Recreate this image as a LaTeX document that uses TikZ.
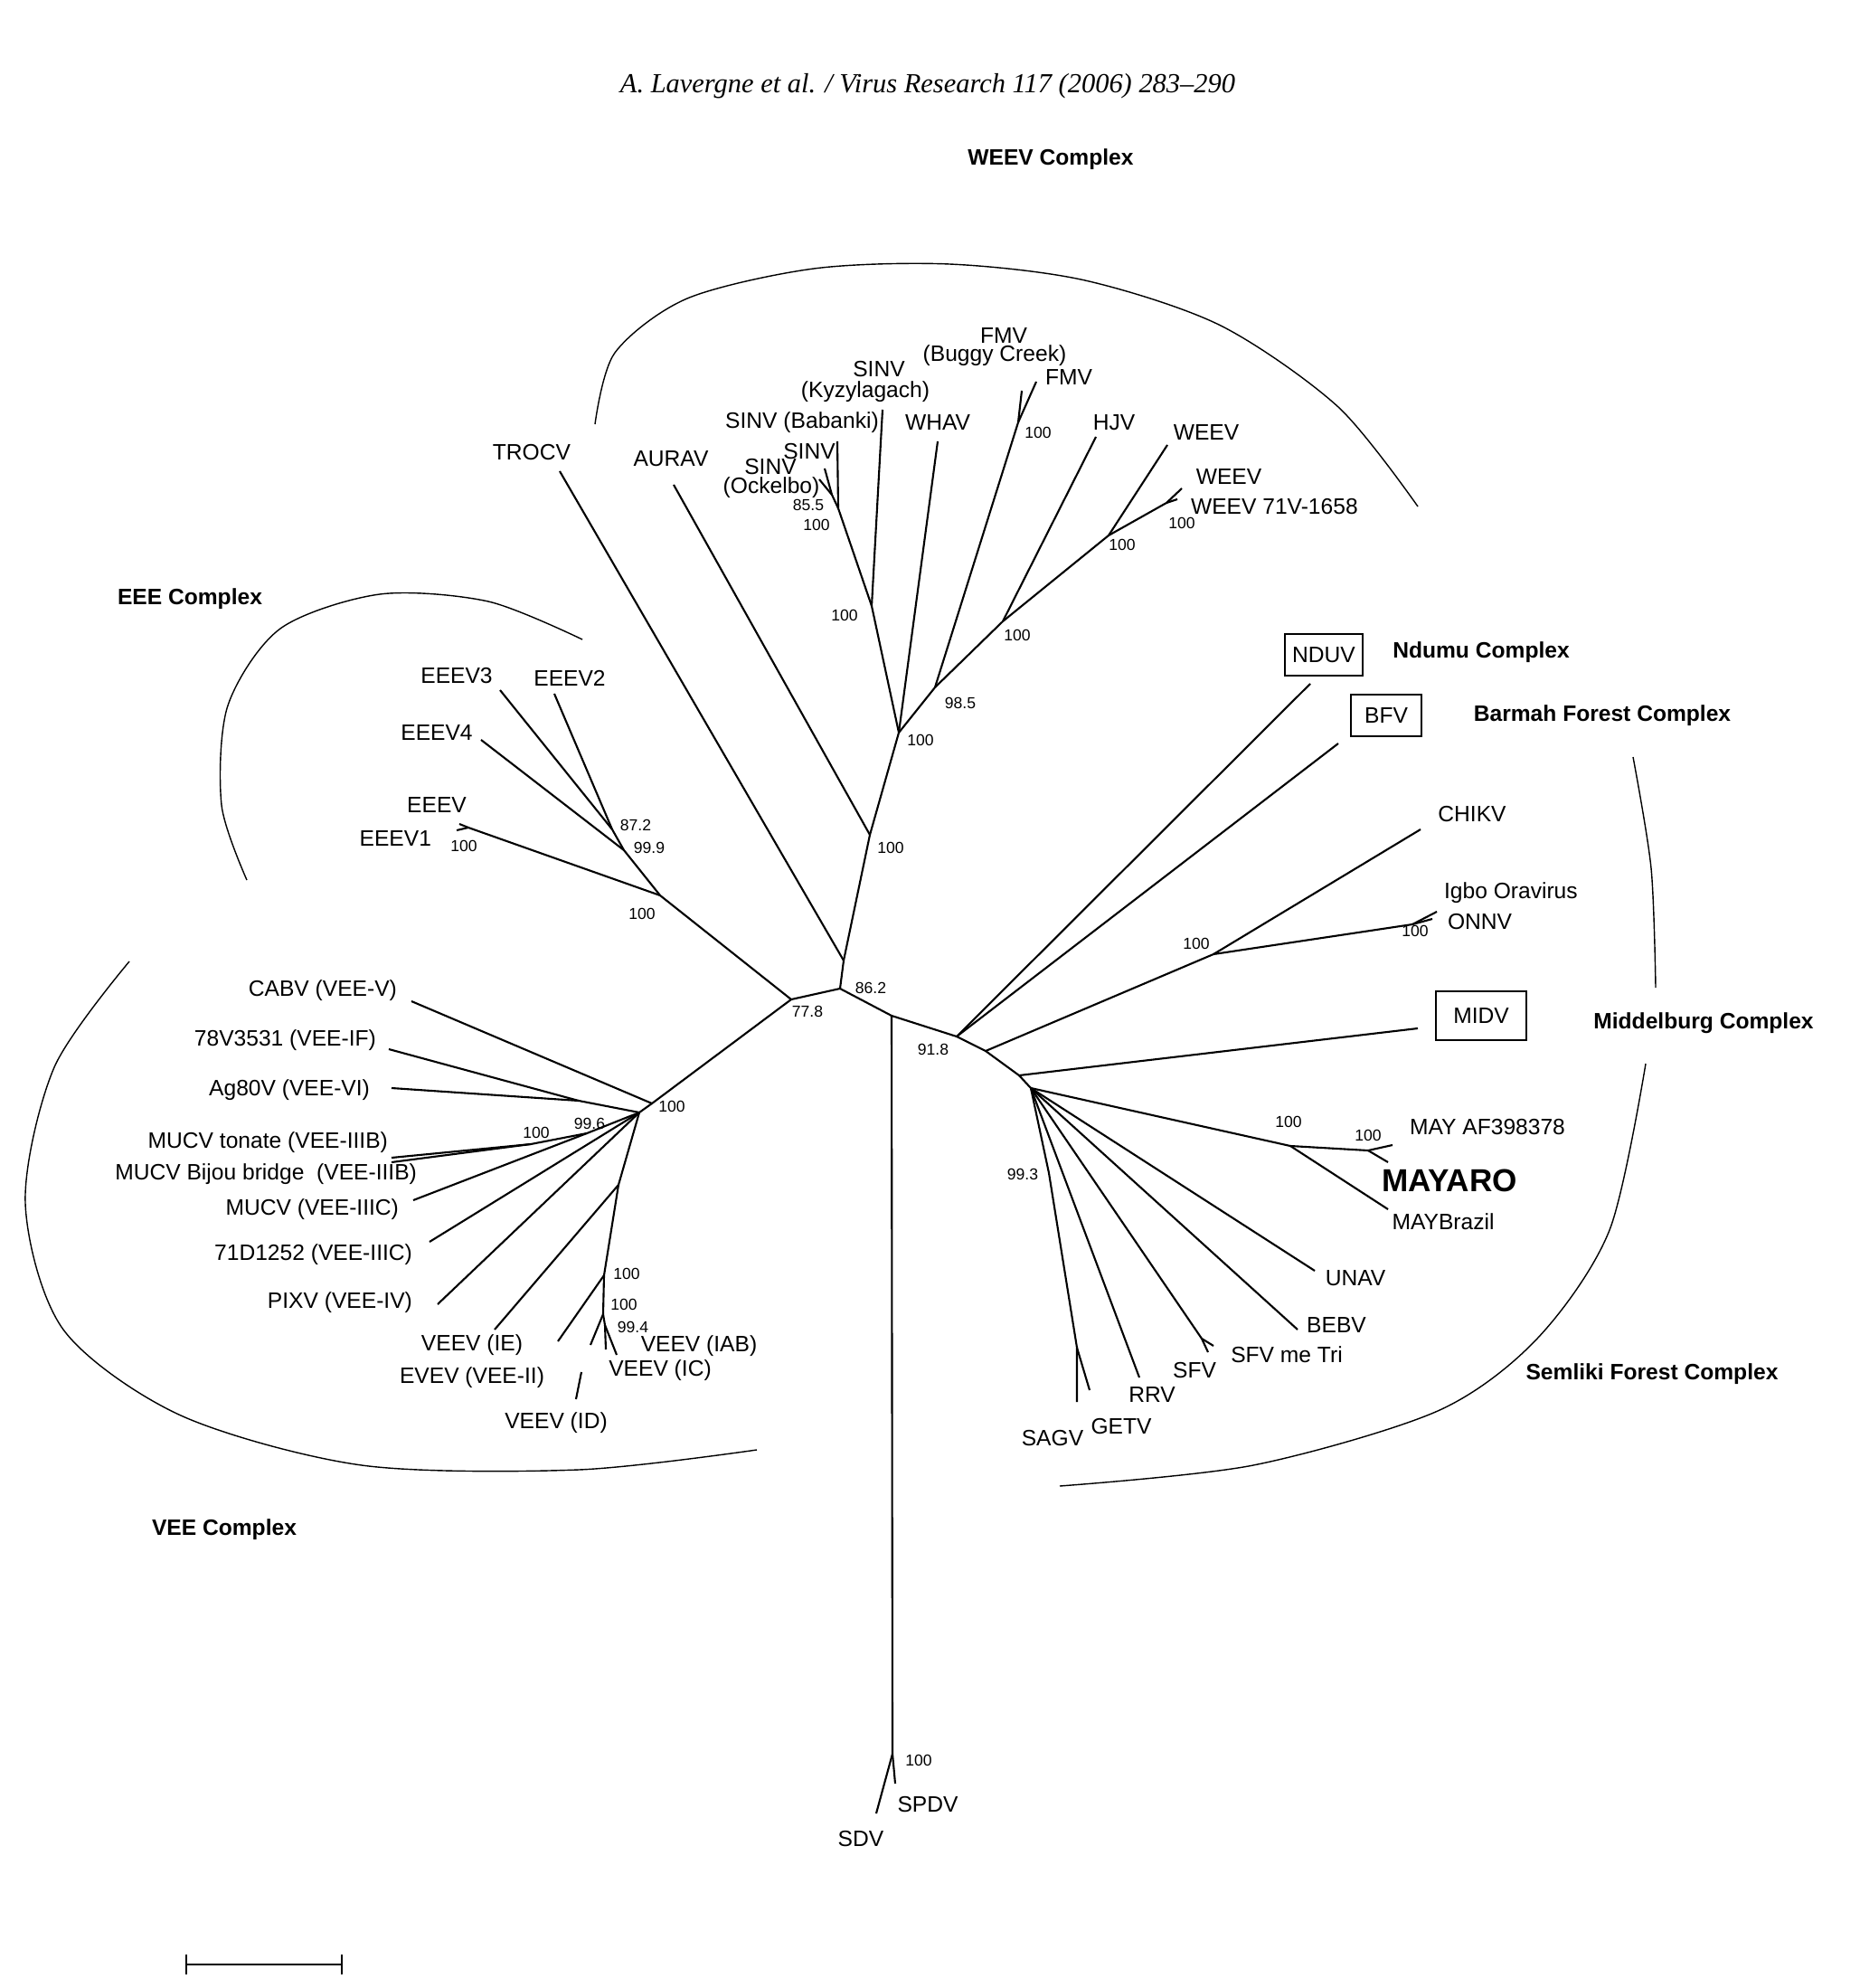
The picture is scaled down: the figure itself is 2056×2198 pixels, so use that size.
\documentclass[tikz,border=0pt]{standalone}
\usepackage{fontspec}
\setmainfont{Liberation Sans}
\newfontfamily\hdfont{Liberation Serif}
\usepackage{tikz}
\usetikzlibrary{positioning}

\begin{document}
\begin{tikzpicture}[x=0.015cm,y=-0.015cm,line width=0.9pt,
    taxon/.style={inner sep=0pt,font=\fontsize{10.5}{11}\selectfont},
    boot/.style={inner sep=0pt,font=\fontsize{7.5}{8}\selectfont},
    cplx/.style={inner sep=0pt,font=\bfseries\fontsize{10.5}{11}\selectfont},
    boxed/.style={taxon,draw,line width=0.8pt,minimum width=1.16cm,minimum height=0.68cm},
    arc/.style={line width=0.6pt}]
  \useasboundingbox (0,0) rectangle (2056,2198);
  \node[font=\hdfont\itshape\fontsize{13}{14}\selectfont] (head) at (1026,95) {A. Lavergne et al. / Virus Research 117 (2006) 283\textendash290};

  % backbone
  \coordinate (n778) at (875,1105);  \coordinate (n862) at (929,1093);
  \coordinate (jtro) at (933,1062);  \coordinate (naur) at (962,923);
  \coordinate (nsd)  at (986,1123);  \coordinate (n918) at (1058,1146);
  \draw (n778) -- (n862) -- (jtro) -- (naur);
  \draw (n862) -- (nsd) -- (n918);

  % WEEV complex
  \coordinate (nwa) at (994,810);   \coordinate (n985) at (1034,760);
  \coordinate (nsin) at (964,670);  \coordinate (nsin2) at (927,562);
  \coordinate (n855) at (920,547);  \coordinate (nfmv) at (1126,467);
  \coordinate (nhjv) at (1109,687); \coordinate (nwee) at (1226,592);
  \coordinate (nw71) at (1290,556);
  \coordinate (ttro) at (619,521);  \coordinate (taur) at (745,536);
  \coordinate (tsin) at (926,488);  \coordinate (tock1) at (912,518);
  \coordinate (tock2) at (906,530); \coordinate (tkyz) at (976,453);
  \coordinate (twha) at (1037,488); \coordinate (tfmv1) at (1130,432);
  \coordinate (tfmv2) at (1146,422); \coordinate (thjv) at (1212,483);
  \coordinate (twee) at (1291,492); \coordinate (tw71a) at (1307,540);
  \coordinate (tw71b) at (1302,552);
  \draw (jtro) -- (ttro);
  \draw (naur) -- (taur);
  \draw (naur) -- (nwa) -- (nsin) -- (nsin2) -- (tsin);
  \draw (nsin2) -- (n855) -- (tock1);
  \draw (n855) -- (tock2);
  \draw (nsin) -- (tkyz);
  \draw (nwa) -- (twha);
  \draw (nwa) -- (n985) -- (nfmv) -- (tfmv1);
  \draw (nfmv) -- (tfmv2);
  \draw (n985) -- (nhjv) -- (thjv);
  \draw (nhjv) -- (nwee) -- (twee);
  \draw (nwee) -- (nw71) -- (tw71a);
  \draw (nw71) -- (tw71b);

  \node[taxon] (troc) at (588,500) {TROCV};
  \node[taxon] (aura) at (742,507) {AURAV};
  \node[taxon] (sinb) at (887,467) {SINV (Babanki)};
  \node[taxon] (sink) at (972,408) {SINV};
  \node[taxon] (kyz)  at (957,433) {(Kyzylagach)};
  \node[taxon] (fmvb) at (1110,371) {FMV};
  \node[taxon] (bug)  at (1100,393) {(Buggy Creek)};
  \node[taxon] (whav) at (1037,467) {WHAV};
  \node[taxon] (sinv) at (895,499) {SINV};
  \node[taxon] (sino) at (852,516) {SINV};
  \node[taxon] (ock)  at (853,539) {(Ockelbo)};
  \node[taxon] (fmv)  at (1182,417) {FMV};
  \node[taxon] (hjv)  at (1232,467) {HJV};
  \node[taxon] (wee1) at (1334,478) {WEEV};
  \node[taxon] (wee2) at (1359,527) {WEEV};
  \node[taxon,anchor=west] (wee3) at (1316,560) {WEEV 71V-1658};
  \node[boot] at (894,558) {85.5};   \node[boot] at (903,580) {100};
  \node[boot] at (934,680) {100};    \node[boot] at (1148,478) {100};
  \node[boot] at (1241,602) {100};   \node[boot] at (1307,578) {100};
  \node[boot] at (1125,702) {100};   \node[boot] at (1062,777) {98.5};
  \node[boot] at (1018,818) {100};   \node[boot] at (985,937) {100};
  \node[boot] at (963,1092) {86.2};  \node[boot] at (893,1118) {77.8};
  \node[boot] at (1032,1160) {91.8};

  % EEE complex
  \coordinate (ne100) at (730,990); \coordinate (n999) at (690,940);
  \coordinate (n872) at (677,917);  \coordinate (ne1) at (518,915);
  \coordinate (te3) at (553,763);   \coordinate (te2) at (613,767);
  \coordinate (te4) at (532,818);   \coordinate (te1a) at (508,911);
  \coordinate (te1b) at (505,918);
  \draw (n778) -- (ne100) -- (n999) -- (n872) -- (te3);
  \draw (n872) -- (te2);
  \draw (n999) -- (te4);
  \draw (ne100) -- (ne1) -- (te1a);
  \draw (ne1) -- (te1b);
  \node[taxon] (eee3) at (505,747) {EEEV3};
  \node[taxon] (eee2) at (630,750) {EEEV2};
  \node[taxon] (eee4) at (483,810) {EEEV4};
  \node[taxon] (eee)  at (483,890) {EEEV};
  \node[taxon,anchor=east] (eee1) at (478,927) {EEEV1};
  \node[boot] at (513,935) {100};  \node[boot] at (703,912) {87.2};
  \node[boot] at (718,937) {99.9}; \node[boot] at (710,1010) {100};

  % VEE complex
  \coordinate (nv100) at (721,1220); \coordinate (n996) at (707,1230);
  \coordinate (nag) at (640,1217);   \coordinate (nmu) at (649,1253);
  \coordinate (nm100) at (587,1265); \coordinate (nie) at (684,1310);
  \coordinate (na) at (668,1410);    \coordinate (nb) at (667,1453);
  \coordinate (nc) at (669,1465);
  \coordinate (tcab) at (455,1107);  \coordinate (t78) at (430,1160);
  \coordinate (tag) at (433,1203);   \coordinate (tton) at (433,1280);
  \coordinate (tbij) at (433,1285);  \coordinate (tmuc) at (457,1327);
  \coordinate (t71d) at (475,1373);  \coordinate (tpix) at (484,1442);
  \coordinate (tie) at (547,1470);   \coordinate (tev) at (617,1483);
  \coordinate (tb) at (653,1487);    \coordinate (tiab) at (682,1498);
  \coordinate (tic) at (670,1492);
  \coordinate (ida) at (643,1517);   \coordinate (idb) at (637,1547);
  \draw (n778) -- (nv100) -- (tcab);
  \draw (nv100) -- (n996) -- (nag) -- (t78);
  \draw (nag) -- (tag);
  \draw (n996) -- (nmu) -- (nm100) -- (tton);
  \draw (nm100) -- (tbij);
  \draw (nmu) -- (tmuc);
  \draw (n996) -- (t71d);
  \draw (n996) -- (tpix);
  \draw (n996) -- (nie) -- (tie);
  \draw (nie) -- (na) -- (tev);
  \draw (na) -- (nb) -- (tb);
  \draw (nb) -- (nc) -- (tiab);
  \draw (nc) -- (tic);
  \draw (ida) -- (idb);
  \node[taxon,anchor=east] (cabv) at (440,1095) {CABV (VEE-V)};
  \node[taxon,anchor=east] (v78)  at (417,1150) {78V3531 (VEE-IF)};
  \node[taxon,anchor=east] (ag80) at (410,1205) {Ag80V (VEE-VI)};
  \node[taxon,anchor=east] (muct) at (430,1263) {MUCV tonate (VEE-IIIB)};
  \node[taxon,anchor=east] (mucb) at (462,1298) {MUCV Bijou bridge\ \ (VEE-IIIB)};
  \node[taxon,anchor=east] (mucc) at (442,1337) {MUCV (VEE-IIIC)};
  \node[taxon,anchor=east] (d71)  at (457,1387) {71D1252 (VEE-IIIC)};
  \node[taxon,anchor=east] (pixv) at (457,1440) {PIXV (VEE-IV)};
  \node[taxon] (veie) at (522,1487) {VEEV (IE)};
  \node[taxon] (evev) at (522,1523) {EVEV (VEE-II)};
  \node[taxon] (viab) at (773,1488) {VEEV (IAB)};
  \node[taxon] (vic)  at (730,1515) {VEEV (IC)};
  \node[taxon] (vid)  at (615,1573) {VEEV (ID)};
  \node[boot] at (743,1223) {100};  \node[boot] at (652,1242) {99.6};
  \node[boot] at (593,1252) {100};  \node[boot] at (693,1408) {100};
  \node[boot] at (690,1442) {100};  \node[boot] at (700,1467) {99.4};

  % Ndumu, Barmah Forest, CHIKV, Middelburg
  \coordinate (nchk) at (1090,1162); \coordinate (n100c) at (1342,1055);
  \coordinate (non) at (1562,1022);  \coordinate (nmid) at (1127,1189);
  \coordinate (nsem) at (1140,1203);
  \coordinate (tnd) at (1449,756);   \coordinate (tbf) at (1480,822);
  \coordinate (tchk) at (1571,917);  \coordinate (ton1) at (1589,1008);
  \coordinate (ton2) at (1584,1016); \coordinate (tmid) at (1568,1137);
  \draw (n918) -- (tnd);
  \draw (n918) -- (tbf);
  \draw (n918) -- (nchk) -- (n100c) -- (tchk);
  \draw (n100c) -- (non) -- (ton1);
  \draw (non) -- (ton2);
  \draw (nchk) -- (nmid) -- (tmid);
  \draw (nmid) -- (nsem);
  \node[boxed,minimum width=1.3cm] (nduv) at (1464,724) {NDUV};
  \node[boxed] (bfv)  at (1533,791) {BFV};
  \node[boxed,minimum width=1.5cm,minimum height=0.8cm] (midv) at (1638,1123) {MIDV};
  \node[taxon] (chik) at (1628,900) {CHIKV};
  \node[taxon,anchor=west] (igbo) at (1596,987) {Igbo Oravirus};
  \node[taxon,anchor=west] (onnv) at (1600,1019) {ONNV};
  \node[boot] at (1323,1043) {100};  \node[boot] at (1565,1029) {100};

  % Semliki Forest complex
  \coordinate (nmay) at (1427,1267); \coordinate (nmay2) at (1513,1272);
  \coordinate (nsfv) at (1329,1480); \coordinate (n993) at (1160,1297);
  \coordinate (nsag) at (1191,1490);
  \coordinate (tmay1) at (1540,1266); \coordinate (tmay2) at (1535,1285);
  \coordinate (tmayb) at (1535,1337); \coordinate (tuna) at (1454,1405);
  \coordinate (tbeb) at (1435,1470);  \coordinate (tsfv1) at (1342,1488);
  \coordinate (tsfv2) at (1336,1495); \coordinate (trrv) at (1260,1523);
  \coordinate (tsag) at (1191,1550);  \coordinate (tget) at (1205,1537);
  \draw (nsem) -- (nmay) -- (nmay2) -- (tmay1);
  \draw (nmay2) -- (tmay2);
  \draw (nmay) -- (tmayb);
  \draw (nsem) -- (tuna);
  \draw (nsem) -- (tbeb);
  \draw (nsem) -- (nsfv) -- (tsfv1);
  \draw (nsfv) -- (tsfv2);
  \draw (nsem) -- (trrv);
  \draw (nsem) -- (n993) -- (nsag) -- (tsag);
  \draw (nsag) -- (tget);
  \node[taxon] (mayaf) at (1645,1246) {MAY AF398378};
  \node[taxon,font=\bfseries\fontsize{15}{16}\selectfont] (mayaro) at (1603,1305) {MAYARO};
  \node[taxon] (maybr) at (1596,1351) {MAYBrazil};
  \node[taxon] (unav) at (1499,1413) {UNAV};
  \node[taxon] (bebv) at (1478,1465) {BEBV};
  \node[taxon] (sfvt) at (1423,1498) {SFV me Tri};
  \node[taxon] (sfv)  at (1321,1515) {SFV};
  \node[taxon] (rrv)  at (1274,1542) {RRV};
  \node[taxon] (sagv) at (1164,1590) {SAGV};
  \node[taxon] (getv) at (1240,1577) {GETV};
  \node[boot] at (1425,1240) {100};  \node[boot] at (1513,1255) {100};
  \node[boot] at (1131,1298) {99.3};

  % SDV / SPDV
  \coordinate (nsp) at (987,1939);
  \coordinate (tsdv) at (969,2005); \coordinate (tspd) at (990,1972);
  \draw (nsd) -- (nsp) -- (tsdv);
  \draw (nsp) -- (tspd);
  \node[taxon] (spdv) at (1026,1995) {SPDV};
  \node[taxon] (sdv)  at (952,2033) {SDV};
  \node[boot] at (1016,1946) {100};

  % complex arcs and titles
  \draw[arc] plot[smooth] coordinates {(658,469) (680,390) (760,330) (900,297) (1050,292) (1200,310) (1350,360) (1480,450) (1568,560)};
  \draw[arc] plot[smooth] coordinates {(273,973) (245,890) (252,780) (310,695) (420,657) (540,665) (644,707)};
  \draw[arc] plot[smooth] coordinates {(143,1063) (60,1180) (28,1330) (70,1470) (200,1565) (400,1620) (640,1625) (837,1603)};
  \draw[arc] plot[smooth] coordinates {(1806,837) (1826,960) (1831,1092)};
  \draw[arc] plot[smooth] coordinates {(1820,1176) (1780,1360) (1700,1480) (1590,1560) (1386,1620) (1172,1643)};
  \node[cplx] (weevc) at (1162,176) {WEEV Complex};
  \node[cplx] (eeec)  at (210,662) {EEE Complex};
  \node[cplx] (veec)  at (248,1691) {VEE Complex};
  \node[cplx] (ndc)   at (1638,721) {Ndumu Complex};
  \node[cplx] (bfc)   at (1772,791) {Barmah Forest Complex};
  \node[cplx] (midc)  at (1884,1131) {Middelburg Complex};
  \node[cplx] (sfc)   at (1827,1519) {Semliki Forest Complex};

  % scale bar
  \coordinate (sba) at (206,2172); \coordinate (sbb) at (378,2172);
  \draw (sba) -- (sbb);
  \draw ([yshift=-0.17cm]sba) -- ([yshift=0.17cm]sba);
  \draw ([yshift=-0.17cm]sbb) -- ([yshift=0.17cm]sbb);
\end{tikzpicture}
\end{document}
